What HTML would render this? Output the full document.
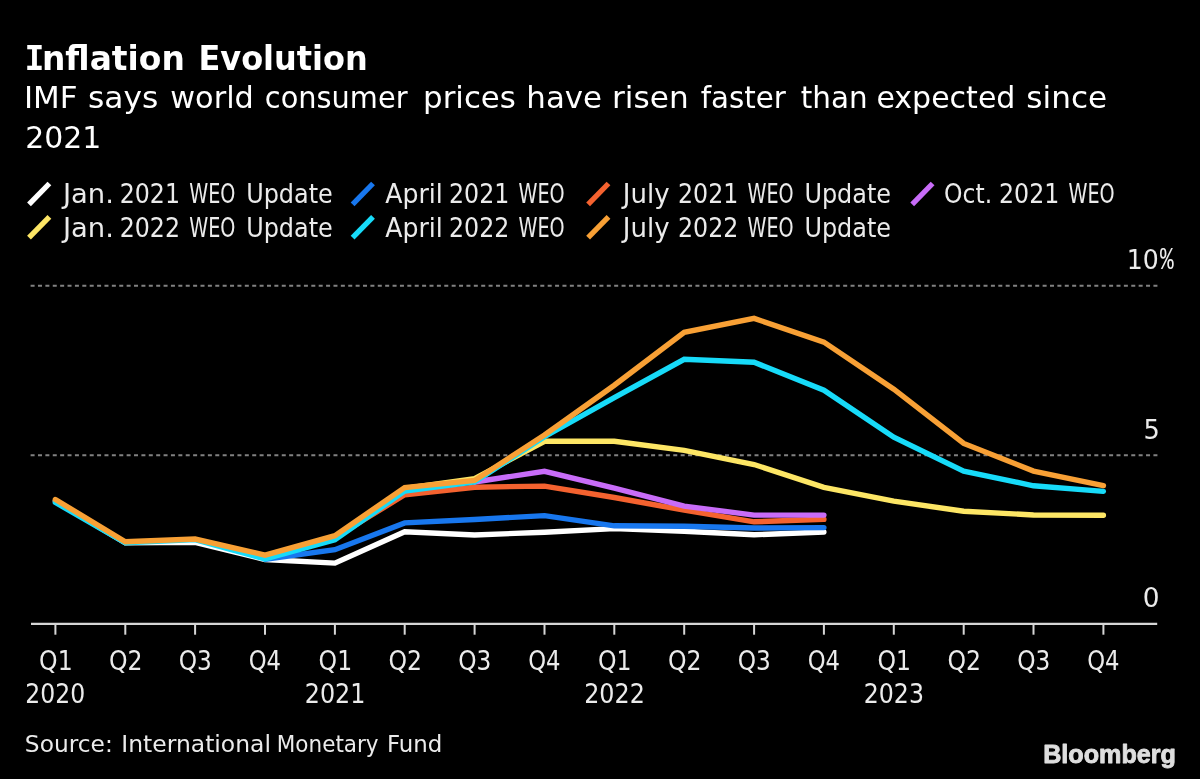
<!DOCTYPE html>
<html lang="en">
<head>
<meta charset="utf-8">
<title>Inflation Evolution</title>
<style>
html,body{margin:0;padding:0;background:#000;}
body{width:1200px;height:779px;overflow:hidden;position:relative;}
svg{display:block;position:absolute;left:0;top:0;will-change:transform;}
text{fill:#ebebeb;}
.t{font-family:"DejaVu Sans", "Liberation Sans", sans-serif;font-weight:bold;font-size:34.5px;}
.tm{font-family:"DejaVu Sans Mono", "Liberation Mono", monospace;font-weight:bold;font-size:34.5px;}
.s{font-family:"DejaVu Sans", "Liberation Sans", sans-serif;font-weight:normal;font-size:30.6px;}
.l{font-family:"DejaVu Sans", "Liberation Sans", sans-serif;font-weight:normal;font-size:25.7px;}
.p{font-family:"Liberation Mono", "DejaVu Sans Mono", monospace;font-weight:normal;font-size:30.5px;}
.src{font-family:"DejaVu Sans", "Liberation Sans", sans-serif;font-weight:normal;font-size:23.0px;}
.bb{font-family:"Liberation Sans", "DejaVu Sans", sans-serif;font-weight:bold;font-size:26.5px;}
.t,.tm,.s{fill:#fff;}
.bb{fill:#dedede;stroke:#dedede;stroke-width:0.9;stroke-linejoin:round;}
.ln{fill:none;stroke-width:5.4;stroke-linecap:round;stroke-linejoin:miter;stroke-miterlimit:10;}
.sw{stroke-width:5.3;stroke-linecap:butt;}
</style>
</head>
<body>
<svg width="1200" height="779" viewBox="0 0 1200 779">
<rect x="0" y="0" width="1200" height="779" fill="#000"/>
<text y="69.8"><tspan class="tm" x="24.41" textLength="19.93" lengthAdjust="spacingAndGlyphs">I</tspan><tspan class="t" x="41.93" textLength="142.91" lengthAdjust="spacingAndGlyphs">nflation</tspan> <tspan class="t" x="198.50" textLength="169.28" lengthAdjust="spacingAndGlyphs">Evolution</tspan></text>
<text y="108.4"><tspan class="s" x="23.90" textLength="53.66" lengthAdjust="spacingAndGlyphs">IMF</tspan> <tspan class="s" x="88.03" textLength="70.31" lengthAdjust="spacingAndGlyphs">says</tspan> <tspan class="s" x="170.25" textLength="83.62" lengthAdjust="spacingAndGlyphs">world</tspan> <tspan class="s" x="264.85" textLength="142.64" lengthAdjust="spacingAndGlyphs">consumer</tspan> <tspan class="s" x="423.09" textLength="92.84" lengthAdjust="spacingAndGlyphs">prices</tspan> <tspan class="s" x="526.39" textLength="75.74" lengthAdjust="spacingAndGlyphs">have</tspan> <tspan class="s" x="612.06" textLength="76.66" lengthAdjust="spacingAndGlyphs">risen</tspan> <tspan class="s" x="700.74" textLength="85.14" lengthAdjust="spacingAndGlyphs">faster</tspan> <tspan class="s" x="800.74" textLength="66.86" lengthAdjust="spacingAndGlyphs">than</tspan> <tspan class="s" x="876.39" textLength="139.05" lengthAdjust="spacingAndGlyphs">expected</tspan> <tspan class="s" x="1026.34" textLength="80.80" lengthAdjust="spacingAndGlyphs">since</tspan></text>
<text y="147.6"><tspan class="s" x="25.13" textLength="76.04" lengthAdjust="spacingAndGlyphs">2021</tspan></text>
<text y="203.2"><tspan class="l" x="62.91" textLength="51.00" lengthAdjust="spacingAndGlyphs">Jan.</tspan> <tspan class="l" x="119.72" textLength="60.30" lengthAdjust="spacingAndGlyphs">2021</tspan> <tspan class="l" x="189.20" textLength="46.21" lengthAdjust="spacingAndGlyphs">WEO</tspan> <tspan class="l" x="246.13" textLength="86.63" lengthAdjust="spacingAndGlyphs">Update</tspan></text>
<text y="203.2"><tspan class="l" x="385.20" textLength="57.58" lengthAdjust="spacingAndGlyphs">April</tspan> <tspan class="l" x="449.02" textLength="60.30" lengthAdjust="spacingAndGlyphs">2021</tspan> <tspan class="l" x="518.50" textLength="46.21" lengthAdjust="spacingAndGlyphs">WEO</tspan></text>
<text y="203.2"><tspan class="l" x="622.82" textLength="46.74" lengthAdjust="spacingAndGlyphs">July</tspan> <tspan class="l" x="678.02" textLength="60.30" lengthAdjust="spacingAndGlyphs">2021</tspan> <tspan class="l" x="747.50" textLength="46.21" lengthAdjust="spacingAndGlyphs">WEO</tspan> <tspan class="l" x="804.43" textLength="86.63" lengthAdjust="spacingAndGlyphs">Update</tspan></text>
<text y="203.2"><tspan class="l" x="944.10" textLength="48.03" lengthAdjust="spacingAndGlyphs">Oct.</tspan> <tspan class="l" x="999.02" textLength="60.30" lengthAdjust="spacingAndGlyphs">2021</tspan> <tspan class="l" x="1068.50" textLength="46.21" lengthAdjust="spacingAndGlyphs">WEO</tspan></text>
<text y="236.6"><tspan class="l" x="62.91" textLength="51.00" lengthAdjust="spacingAndGlyphs">Jan.</tspan> <tspan class="l" x="119.72" textLength="60.30" lengthAdjust="spacingAndGlyphs">2022</tspan> <tspan class="l" x="189.20" textLength="46.21" lengthAdjust="spacingAndGlyphs">WEO</tspan> <tspan class="l" x="246.13" textLength="86.63" lengthAdjust="spacingAndGlyphs">Update</tspan></text>
<text y="236.6"><tspan class="l" x="385.20" textLength="57.58" lengthAdjust="spacingAndGlyphs">April</tspan> <tspan class="l" x="449.02" textLength="60.30" lengthAdjust="spacingAndGlyphs">2022</tspan> <tspan class="l" x="518.50" textLength="46.21" lengthAdjust="spacingAndGlyphs">WEO</tspan></text>
<text y="236.6"><tspan class="l" x="622.82" textLength="46.74" lengthAdjust="spacingAndGlyphs">July</tspan> <tspan class="l" x="678.02" textLength="60.30" lengthAdjust="spacingAndGlyphs">2022</tspan> <tspan class="l" x="747.50" textLength="46.21" lengthAdjust="spacingAndGlyphs">WEO</tspan> <tspan class="l" x="804.43" textLength="86.63" lengthAdjust="spacingAndGlyphs">Update</tspan></text>
<text y="269.1"><tspan class="l" x="1126.75" textLength="32.01" lengthAdjust="spacingAndGlyphs">10</tspan><tspan class="p" x="1159.90" textLength="13.69" lengthAdjust="spacingAndGlyphs">%</tspan></text>
<text y="438.6"><tspan class="l" x="1143.50" textLength="16.29" lengthAdjust="spacingAndGlyphs">5</tspan></text>
<text y="606.7"><tspan class="l" x="1142.85" textLength="16.78" lengthAdjust="spacingAndGlyphs">0</tspan></text>
<text y="669.9"><tspan class="l" x="39.10" textLength="33.51" lengthAdjust="spacingAndGlyphs">Q1</tspan></text>
<text y="703.1"><tspan class="l" x="25.33" textLength="59.84" lengthAdjust="spacingAndGlyphs">2020</tspan></text>
<text y="669.9"><tspan class="l" x="109.00" textLength="33.51" lengthAdjust="spacingAndGlyphs">Q2</tspan></text>
<text y="669.9"><tspan class="l" x="178.81" textLength="33.11" lengthAdjust="spacingAndGlyphs">Q3</tspan></text>
<text y="669.9"><tspan class="l" x="248.74" textLength="32.33" lengthAdjust="spacingAndGlyphs">Q4</tspan></text>
<text y="669.9"><tspan class="l" x="318.60" textLength="33.51" lengthAdjust="spacingAndGlyphs">Q1</tspan></text>
<text y="703.1"><tspan class="l" x="304.81" textLength="60.62" lengthAdjust="spacingAndGlyphs">2021</tspan></text>
<text y="669.9"><tspan class="l" x="388.40" textLength="33.51" lengthAdjust="spacingAndGlyphs">Q2</tspan></text>
<text y="669.9"><tspan class="l" x="458.31" textLength="33.11" lengthAdjust="spacingAndGlyphs">Q3</tspan></text>
<text y="669.9"><tspan class="l" x="528.24" textLength="32.33" lengthAdjust="spacingAndGlyphs">Q4</tspan></text>
<text y="669.9"><tspan class="l" x="598.00" textLength="33.51" lengthAdjust="spacingAndGlyphs">Q1</tspan></text>
<text y="703.1"><tspan class="l" x="584.21" textLength="60.62" lengthAdjust="spacingAndGlyphs">2022</tspan></text>
<text y="669.9"><tspan class="l" x="667.90" textLength="33.51" lengthAdjust="spacingAndGlyphs">Q2</tspan></text>
<text y="669.9"><tspan class="l" x="737.81" textLength="33.11" lengthAdjust="spacingAndGlyphs">Q3</tspan></text>
<text y="669.9"><tspan class="l" x="807.64" textLength="32.33" lengthAdjust="spacingAndGlyphs">Q4</tspan></text>
<text y="669.9"><tspan class="l" x="877.50" textLength="33.51" lengthAdjust="spacingAndGlyphs">Q1</tspan></text>
<text y="703.1"><tspan class="l" x="863.72" textLength="60.22" lengthAdjust="spacingAndGlyphs">2023</tspan></text>
<text y="669.9"><tspan class="l" x="947.40" textLength="33.51" lengthAdjust="spacingAndGlyphs">Q2</tspan></text>
<text y="669.9"><tspan class="l" x="1017.21" textLength="33.11" lengthAdjust="spacingAndGlyphs">Q3</tspan></text>
<text y="669.9"><tspan class="l" x="1087.14" textLength="32.33" lengthAdjust="spacingAndGlyphs">Q4</tspan></text>
<text y="752.4"><tspan class="src" x="24.84" textLength="87.95" lengthAdjust="spacingAndGlyphs">Source:</tspan> <tspan class="src" x="121.30" textLength="149.62" lengthAdjust="spacingAndGlyphs">International</tspan> <tspan class="src" x="276.78" textLength="101.85" lengthAdjust="spacingAndGlyphs">Monetary</tspan> <tspan class="src" x="386.95" textLength="55.46" lengthAdjust="spacingAndGlyphs">Fund</tspan></text>
<text y="762.7"><tspan class="bb" x="1043.13" textLength="132.78" lengthAdjust="spacingAndGlyphs">Bloomberg</tspan></text>
<line class="sw" x1="29.0" y1="204.3" x2="49.4" y2="183.5" stroke="#ffffff"/>
<line class="sw" x1="352.6" y1="204.3" x2="373.0" y2="183.5" stroke="#1877ee"/>
<line class="sw" x1="588.1" y1="204.3" x2="608.5" y2="183.5" stroke="#f4622f"/>
<line class="sw" x1="912.2" y1="204.3" x2="932.6" y2="183.5" stroke="#c86cf8"/>
<line class="sw" x1="29.0" y1="237.7" x2="49.4" y2="216.9" stroke="#fde665"/>
<line class="sw" x1="352.6" y1="237.7" x2="373.0" y2="216.9" stroke="#17dbf9"/>
<line class="sw" x1="588.1" y1="237.7" x2="608.5" y2="216.9" stroke="#f8a035"/>
<line x1="30.6" y1="285.8" x2="1157.5" y2="285.8" stroke="#818181" stroke-width="2.1" stroke-dasharray="4 3.387"/>
<line x1="30.6" y1="455.2" x2="1157.5" y2="455.2" stroke="#818181" stroke-width="2.1" stroke-dasharray="4 3.387"/>
<path class="ln" d="M55.4 501.0 L125.3 542.7 L195.1 542.3 L265.0 559.5 L334.9 563.1 L404.7 531.8 L474.6 535.0 L544.5 532.2 L614.3 528.6 L684.2 531.2 L754.1 534.8 L823.9 532.0" stroke="#ffffff"/>
<path class="ln" d="M265.0 559.2 L334.9 549.7 L404.7 522.9 L474.6 519.5 L544.5 515.6 L614.3 525.8 L684.2 526.2 L754.1 528.0 L823.9 527.6" stroke="#1877ee"/>
<path class="ln" d="M334.9 537.5 L404.7 494.8 L474.6 487.2 L544.5 486.1 L614.3 497.5 L684.2 510.2 L754.1 521.8 L823.9 519.3" stroke="#f4622f"/>
<path class="ln" d="M474.6 482.0 L544.5 471.3 L614.3 488.1 L684.2 506.2 L754.1 515.1 L823.9 515.1" stroke="#c86cf8"/>
<path class="ln" d="M404.7 488.5 L474.6 478.6 L544.5 441.3 L614.3 441.3 L684.2 450.3 L754.1 464.5 L823.9 487.3 L893.8 501.2 L963.7 511.2 L1033.5 515.0 L1103.4 515.2" stroke="#fde665"/>
<path class="ln" d="M55.4 502.5 L125.3 542.7 L195.1 539.6 L265.0 559.0 L334.9 539.7 L404.7 491.0 L474.6 481.9 L544.5 436.7 L614.3 397.6 L684.2 359.3 L754.1 362.3 L823.9 390.2 L893.8 437.2 L963.7 471.1 L1033.5 485.8 L1103.4 491.4" stroke="#17dbf9"/>
<path class="ln" d="M55.4 499.5 L125.3 541.8 L195.1 539.0 L265.0 555.1 L334.9 535.7 L404.7 487.6 L474.6 480.5 L544.5 435.0 L614.3 385.2 L684.2 332.3 L754.1 318.4 L823.9 342.1 L893.8 389.2 L963.7 443.5 L1033.5 471.1 L1103.4 485.6" stroke="#f8a035"/>
<line x1="31" y1="623.9" x2="1157.2" y2="623.9" stroke="#d6d6d6" stroke-width="2.3"/>
<line x1="55.4" y1="624" x2="55.4" y2="634.7" stroke="#d6d6d6" stroke-width="2"/>
<line x1="125.3" y1="624" x2="125.3" y2="634.7" stroke="#d6d6d6" stroke-width="2"/>
<line x1="195.1" y1="624" x2="195.1" y2="634.7" stroke="#d6d6d6" stroke-width="2"/>
<line x1="265.0" y1="624" x2="265.0" y2="634.7" stroke="#d6d6d6" stroke-width="2"/>
<line x1="334.9" y1="624" x2="334.9" y2="634.7" stroke="#d6d6d6" stroke-width="2"/>
<line x1="404.7" y1="624" x2="404.7" y2="634.7" stroke="#d6d6d6" stroke-width="2"/>
<line x1="474.6" y1="624" x2="474.6" y2="634.7" stroke="#d6d6d6" stroke-width="2"/>
<line x1="544.5" y1="624" x2="544.5" y2="634.7" stroke="#d6d6d6" stroke-width="2"/>
<line x1="614.3" y1="624" x2="614.3" y2="634.7" stroke="#d6d6d6" stroke-width="2"/>
<line x1="684.2" y1="624" x2="684.2" y2="634.7" stroke="#d6d6d6" stroke-width="2"/>
<line x1="754.1" y1="624" x2="754.1" y2="634.7" stroke="#d6d6d6" stroke-width="2"/>
<line x1="823.9" y1="624" x2="823.9" y2="634.7" stroke="#d6d6d6" stroke-width="2"/>
<line x1="893.8" y1="624" x2="893.8" y2="634.7" stroke="#d6d6d6" stroke-width="2"/>
<line x1="963.7" y1="624" x2="963.7" y2="634.7" stroke="#d6d6d6" stroke-width="2"/>
<line x1="1033.5" y1="624" x2="1033.5" y2="634.7" stroke="#d6d6d6" stroke-width="2"/>
<line x1="1103.4" y1="624" x2="1103.4" y2="634.7" stroke="#d6d6d6" stroke-width="2"/>
</svg>
</body>
</html>
